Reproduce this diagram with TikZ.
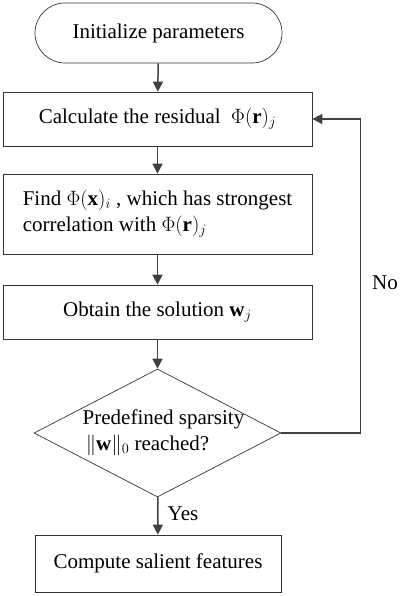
\documentclass[tikz,border=0pt]{standalone}
\usepackage{fontspec}
\setmainfont{Liberation Serif}
\usetikzlibrary{shapes, shapes.geometric, arrows.meta}

\begin{document}
\begin{tikzpicture}[x=1pt, y=-1pt,
font=\fontsize{21}{26}\selectfont,
procbox/.style={draw=black!80, line width=0.7pt, minimum width=309pt, inner sep=0pt},
flowarrow/.style={draw=black!75, line width=1.5pt, -{Triangle[width=10pt,length=10pt]}}]
\useasboundingbox (0,0) rectangle (400,596);
\node[draw=black!80, line width=0.7pt, rounded corners=30pt,
minimum width=247pt, minimum height=60pt] (init) at (158.5,33) {Initialize parameters};
\node[procbox, minimum height=54pt] (calc) at (157.5,119)
{Calculate the residual~ $\Phi(\mathbf{r})_j$};
\node[procbox, minimum height=80pt, align=left] (find) at (157.5,214)
{Find $\Phi(\mathbf{x})_i$ , which has strongest\\
correlation with $\Phi(\mathbf{r})_j$};
\node[procbox, minimum height=54pt] (solve) at (157.5,312)
{Obtain the solution $\mathbf{w}_j$};
\node[diamond, draw=black!80, line width=0.7pt, minimum width=247pt,
minimum height=128pt, inner sep=0pt] (sparse) at (157.5,433) {};
\node[align=center, inner sep=0pt] (sparsetext) at (sparse)
{\hspace*{12pt}Predefined sparsity\\
$\|\mathbf{w}\|_0$ reached?\hspace*{20pt}};
\node[draw=black!80, line width=0.7pt, minimum width=246pt,
minimum height=57pt] (salient) at (158,563.5) {Compute salient features};

\draw[flowarrow] (init) -- (calc);
\draw[flowarrow] (calc) -- (find);
\draw[flowarrow] (find) -- (solve);
\draw[flowarrow] (solve) -- (sparse);
\draw[flowarrow] (sparse) -- (salient);
\draw[flowarrow] (sparse.east) -- ++(79,0) |- (calc.east);

\node (yes) at (183,514) {Yes};
\node (no) at (385,283) {No};
\end{tikzpicture}
\end{document}
